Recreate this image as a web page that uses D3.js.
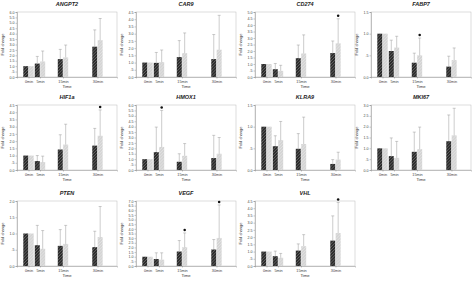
<!DOCTYPE html>
<html><head><meta charset="utf-8">
<script src="https://cdn.jsdelivr.net/npm/d3@7"></script>
<style>body{margin:0;background:#fff}svg{display:block;font-family:"Liberation Sans",Arial,sans-serif}</style>
</head><body><svg id="c" width="474" height="282"></svg>
<script>
const genes = ["ANGPT2","CAR9","CD274","FABP7","HIF1a","HMOX1","KLRA9","MKI67","PTEN","VEGF","VHL"];
const times = [0, 5, 15, 30];
const timeLabels = ["0min","5min","15min","30min"];
const yMax = [6.0, 4.5, 5.0, 1.5, 4.5, 6.0, 1.5, 3.0, 2.0, 7.0, 4.5];
const darkMean = [
 [1.0,1.24,1.65,2.8],[1.0,0.98,1.38,1.24],[1.0,0.6,1.45,1.84],[1.0,0.6,0.33,0.24],
 [1.0,0.62,1.42,1.69],[1.0,1.65,0.76,1.1],[1.0,0.55,0.49,0.14],[1.0,0.64,0.84,1.33],
 [1.0,0.64,0.62,0.58],[1.0,0.75,1.56,1.78],[1.0,0.68,1.07,1.76]];
const darkErr = [
 [1.0,1.9,2.55,4.35],[1.0,1.7,2.52,2.94],[1.0,1.04,2.46,2.77],[1.0,0.85,0.55,0.48],
 [1.0,1.0,2.44,2.88],[1.0,3.96,1.5,3.2],[1.0,0.79,0.84,0.24],[1.0,1.48,1.75,2.54],
 [1.0,1.25,1.12,1.07],[1.0,1.42,2.74,2.85],[1.0,1.03,1.53,3.47]];
const lightMean = [
 [1.0,1.43,1.8,3.4],[1.0,1.03,1.65,1.89],[1.0,0.47,1.81,2.59],[1.0,0.68,0.5,0.39],
 [1.0,0.55,1.76,2.37],[1.0,2.13,1.31,1.5],[1.0,0.69,0.6,0.24],[1.0,0.56,0.96,1.6],
 [1.0,0.53,0.68,0.89],[1.0,0.68,2.03,3.02],[1.0,0.57,1.37,2.28]];
const lightErr = [
 [1.0,2.4,2.95,5.4],[1.0,1.87,3.05,4.27],[1.0,0.9,3.24,4.48],[1.0,0.94,0.9,0.67],
 [1.0,0.96,3.17,4.16],[1.0,5.5,2.44,3.0],[1.0,1.12,1.22,0.41],[1.0,1.32,1.98,2.85],
 [1.0,1.09,1.25,1.83],[1.0,1.42,3.56,6.58],[1.0,0.87,2.17,4.4]];
// significance markers: [panel, time index] on light bars
const stars = [[2,3],[3,2],[4,3],[5,1],[9,2],[9,3],[10,3]];

const svg = d3.select("#c");
const defs = svg.append("defs");
function hatch(id, bg, fg, sw){
  const p = defs.append("pattern").attr("id", id).attr("patternUnits","userSpaceOnUse")
    .attr("width",2.2).attr("height",2.2).attr("patternTransform","rotate(45)");
  p.append("rect").attr("width",2.2).attr("height",2.2).attr("fill",bg);
  p.append("line").attr("x1",0).attr("y1",0).attr("x2",0).attr("y2",2.2).attr("stroke",fg).attr("stroke-width",sw);
}
hatch("hd","#2a2a2a","#9a9a9a",0.7);
hatch("hl","#d4d4d4","#ececec",0.8);

const colX = [17, 136, 255, 371];
const rowY = [12, 105, 201];
const W = 100, H = 65;
const fmt = v => v === 0 ? "0.0" : (v < 1 ? d3.format(".1f")(v).slice(1) : d3.format(".1f")(v));

genes.forEach((g, i) => {
  const col = i % 4, row = Math.floor(i / 4);
  const gx = colX[col], gy = rowY[row];
  const G = svg.append("g").attr("transform", `translate(${gx},${gy})`);
  const x = d3.scaleLinear().domain([-5, 38.5]).range([0, W]);
  const y = d3.scaleLinear().domain([0, yMax[i]]).range([H, 0]);
  const bw = 5;
  // frame
  G.append("rect").attr("width",W).attr("height",H).attr("fill","none").attr("stroke","#bbb").attr("stroke-width",0.5);
  // y axis
  const ticks = d3.range(0, yMax[i] + 0.001, 0.5);
  const ya = G.append("g").call(d3.axisLeft(y).tickValues(ticks).tickFormat(fmt).tickSize(1.5).tickPadding(1));
  ya.selectAll("text").attr("font-size",3.6).attr("fill","#444");
  ya.selectAll("line,path").attr("stroke","#777").attr("stroke-width",0.4);
  // x axis
  const xa = G.append("g").attr("transform",`translate(0,${H})`)
    .call(d3.axisBottom(x).tickValues(times).tickFormat((d,k)=>timeLabels[k]).tickSize(1.5).tickPadding(1.5));
  xa.selectAll("text").attr("font-size",3.8).attr("fill","#444");
  xa.selectAll("line,path").attr("stroke","#777").attr("stroke-width",0.4);
  // bars
  times.forEach((t, k) => {
    const cx = x(t);
    const sets = [
      {m: darkMean[i][k], e: darkErr[i][k], x0: cx - bw - 0.2, f: "url(#hd)"},
      {m: lightMean[i][k], e: lightErr[i][k], x0: cx + 0.2, f: "url(#hl)"}];
    sets.forEach(s => {
      G.append("rect").attr("x", s.x0).attr("y", y(s.m)).attr("width", bw).attr("height", H - y(s.m))
        .attr("fill", s.f);
      if (s.e > s.m + 0.01) {
        const ex = s.x0 + bw / 2;
        G.append("line").attr("x1",ex).attr("x2",ex).attr("y1",y(s.m)).attr("y2",y(s.e)).attr("stroke","#999").attr("stroke-width",0.5);
        G.append("line").attr("x1",ex-1.5).attr("x2",ex+1.5).attr("y1",y(s.e)).attr("y2",y(s.e)).attr("stroke","#999").attr("stroke-width",0.5);
      }
    });
  });
  stars.filter(s => s[0] === i).forEach(s => {
    const k = s[1];
    const ex = x(times[k]) + 0.2 + bw / 2;
    G.append("path").attr("d", d3.symbol(d3.symbolCircle, 5)())
      .attr("transform", `translate(${ex},${y(lightErr[i][k]) - 3})`).attr("fill","#111");
  });
  // title
  G.append("text").attr("x", W / 2).attr("y", -6).attr("text-anchor","middle")
    .attr("font-size",5.5).attr("font-weight","bold").attr("font-style","italic").attr("fill","#222").text(g);
  // axis labels
  G.append("text").attr("x", W / 2).attr("y", H + 11).attr("text-anchor","middle")
    .attr("font-size",4.2).attr("fill","#333").text("Time");
  G.append("text").attr("transform",`translate(${-13},${H/2}) rotate(-90)`).attr("text-anchor","middle")
    .attr("font-size",4).attr("fill","#333").text("Fold change");
});
</script></body></html>
